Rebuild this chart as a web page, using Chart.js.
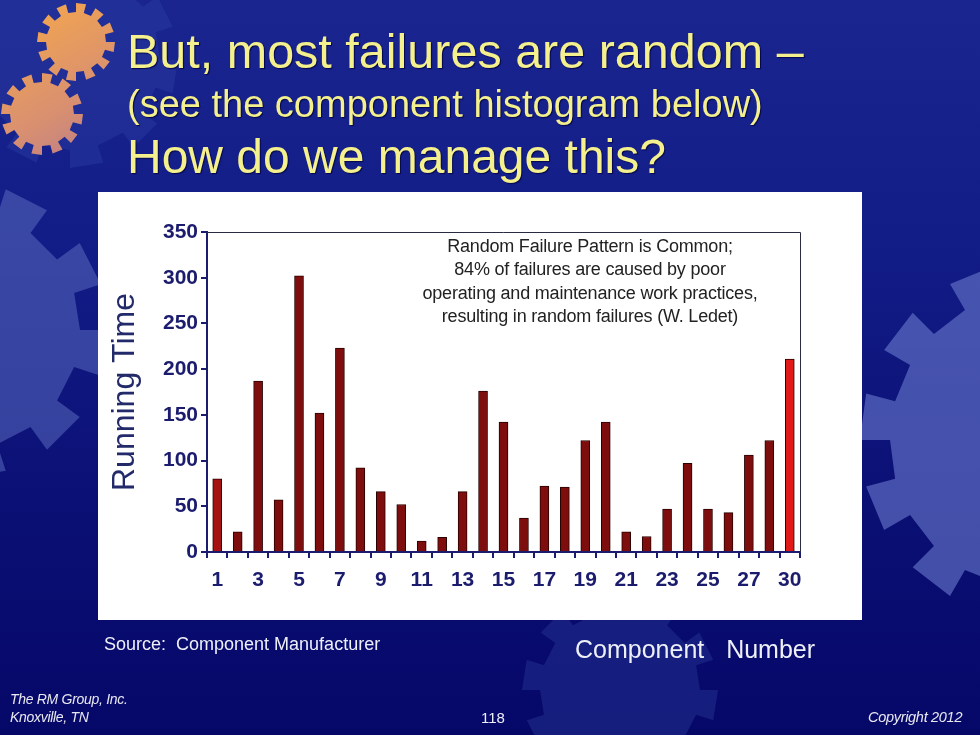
<!DOCTYPE html>
<html>
<head>
<meta charset="utf-8">
<script src="https://cdn.jsdelivr.net/npm/chart.js@4.4.1/dist/chart.umd.min.js"></script>
<style>
  html, body { margin:0; padding:0; }
  body { width:980px; height:735px; position:relative; overflow:hidden;
         background: linear-gradient(180deg, #1a2590 0%, #121c86 35%, #0a0f74 70%, #060868 100%);
         font-family: "Liberation Sans", Arial, sans-serif; }
  #bg { position:absolute; left:0; top:0; }
  .t { position:absolute; color:#f4f08e; white-space:nowrap; text-shadow: 1px 1px 1px #05084a; }
  #panel { position:absolute; left:98px; top:192px; width:764px; height:428px; background:#fff; }
  #note { position:absolute; left:380px; top:235px; width:420px; text-align:center;
          font-size:18px; line-height:23.3px; color:#222; letter-spacing:-0.2px; }
  .w { position:absolute; color:#eef0f8; white-space:nowrap; }
  .f { position:absolute; color:#e8e8f0; font-style:italic; font-size:14px; white-space:nowrap; letter-spacing:-0.3px; }
</style>
</head>
<body>
<canvas id="bg" width="980" height="735"></canvas>

<div class="t" style="left:127px; top:27px; font-size:48.5px; line-height:48px;">But, most failures are random –</div>
<div class="t" style="left:127px; top:85px; font-size:38px; line-height:39px;">(see the component histogram below)</div>
<div class="t" style="left:127px; top:133px; font-size:48px; line-height:48px;">How do we manage this?</div>

<div id="panel"><canvas id="chart"></canvas></div>

<div id="note">Random Failure Pattern is Common;<br>84% of failures are caused by poor<br>operating and maintenance work practices,<br>resulting in random failures (W. Ledet)</div>

<div class="w" style="left:104px; top:634px; font-size:18px;">Source:&nbsp; Component Manufacturer</div>
<div class="w" style="left:575px; top:635px; font-size:25px; word-spacing:4px;">Component&nbsp; Number</div>

<div class="f" style="left:10px; top:691px;">The RM Group, Inc.</div>
<div class="f" style="left:10px; top:709px;">Knoxville, TN</div>
<div class="w" style="left:481px; top:709px; font-size:15px;">118</div>
<div class="f" style="left:868px; top:709px; font-size:14.5px;">Copyright 2012</div>

<script>
// component numbers (no #29 in the original histogram)
var components = ['1','2','3','4','5','6','7','8','9','10','11','12','13','14','15','16','17','18','19','20','21','22','23','24','25','26','27','28','30'];
var runningTime = [80, 22, 187, 57, 302, 152, 223, 92, 66, 52, 12, 16, 66, 176, 142, 37, 72, 71, 122, 142, 22, 17, 47, 97, 47, 43, 106, 122, 211];
var yTicks = [0, 50, 100, 150, 200, 250, 300, 350];

// background gears, just decoration
function gear(ctx, cx, cy, r, teeth, depth, fill) {
	var n = teeth * 2;
	ctx.beginPath();
	for (var i = 0; i < n; i++) {
		var a0 = (i / n) * Math.PI * 2;
		var a1 = ((i + 1) / n) * Math.PI * 2;
		var rr = (i % 2 == 0) ? r + depth : r;
		ctx.lineTo(cx + rr * Math.cos(a0), cy + rr * Math.sin(a0));
		ctx.lineTo(cx + rr * Math.cos(a1), cy + rr * Math.sin(a1));
	}
	ctx.closePath();
	ctx.fillStyle = fill;
	ctx.fill();
}
var bg = document.getElementById('bg').getContext('2d');
gear(bg, -40, 330, 120, 10, 28, 'rgba(90,105,190,0.55)');
gear(bg, 1040, 440, 150, 12, 30, 'rgba(100,115,200,0.65)');
gear(bg, 620, 690, 80, 10, 18, 'rgba(40,55,150,0.45)');
gear(bg, 70, 60, 90, 10, 18, 'rgba(50,70,170,0.35)');
var og = bg.createLinearGradient(20, 10, 110, 160);
og.addColorStop(0, '#f3a64e');
og.addColorStop(0.6, '#d99070');
og.addColorStop(1, '#b87a8a');
gear(bg, 76, 42, 30, 12, 9, og);
gear(bg, 42, 114, 32, 12, 9, og);

var navy = '#1c1c6e';
var barColors = runningTime.map(function (v, i) {
	if (i == runningTime.length - 1) return '#e01a18';
	if (i == 0) return '#a61212';
	return '#7e0d0d';
});

var framePlugin = {
	id: 'frame',
	afterDatasetsDraw: function (chart) {
		var a = chart.chartArea, c = chart.ctx;
		c.save();
		c.strokeStyle = '#2a2a40';
		c.lineWidth = 1;
		c.beginPath();
		c.moveTo(a.left, a.top + 0.5);
		c.lineTo(a.right + 0.5, a.top + 0.5);
		c.lineTo(a.right + 0.5, a.bottom);
		c.stroke();
		c.restore();
	}
};

new Chart(document.getElementById('chart'), {
	type: 'bar',
	data: {
		labels: components,
		datasets: [{
			data: runningTime,
			backgroundColor: barColors,
			borderColor: '#2a0000',
			borderWidth: 1,
			barThickness: 9
		}]
	},
	options: {
		responsive: true,
		maintainAspectRatio: false,
		animation: false,
		layout: { padding: { top: 40, right: 62, left: 0, bottom: 0 } },
		plugins: { legend: { display: false }, tooltip: { enabled: false } },
		scales: {
			x: {
				offset: true,
				grid: { offset: true, drawOnChartArea: false, tickLength: 6, color: navy, lineWidth: 2 },
				border: { color: navy, width: 2 },
				ticks: {
					autoSkip: false, maxRotation: 0, padding: 10,
					color: navy, font: { family: 'Liberation Sans', size: 21, weight: 'bold' },
					callback: function (v, i) { return (i % 2 == 0) ? components[i] : ''; }
				},
				afterFit: function (s) { s.height = 68; }
			},
			y: {
				min: 0, max: 350,
				afterBuildTicks: function (s) { s.ticks = yTicks.map(function (v) { return { value: v }; }); },
				grid: { drawOnChartArea: false, tickLength: 6, color: navy, lineWidth: 2 },
				border: { color: navy, width: 2 },
				ticks: { padding: 3, color: navy, font: { family: 'Liberation Sans', size: 21, weight: 'bold' } },
				title: { display: true, text: 'Running Time', color: '#222a6a',
					font: { family: 'Liberation Sans', size: 32 }, padding: { top: 8, bottom: 0 } },
				afterFit: function (s) { s.width = 109; }
			}
		}
	},
	plugins: [framePlugin]
});
</script>
</body>
</html>
